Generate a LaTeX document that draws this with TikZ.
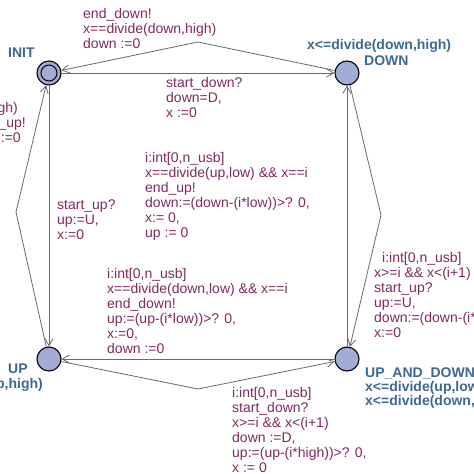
\documentclass[tikz,border=0pt]{standalone}
\usepackage{fontspec}
\setmainfont{Liberation Sans}
\usetikzlibrary{arrows.meta}
\definecolor{locfill}{RGB}{163,172,212}
\definecolor{lblcol}{RGB}{128,40,96}
\definecolor{namecol}{RGB}{62,104,146}
\definecolor{edgecol}{RGB}{105,105,105}

\begin{document}
\begin{tikzpicture}[x=1pt,y=-1pt,
    loc/.style={circle, draw, line width=1.1pt, fill=locfill, minimum size=24pt, inner sep=0pt},
    trans/.style={draw=edgecol, line width=0.8pt, -{Straight Barb[length=7pt,width=8pt]}},
    lbl/.style={text=lblcol, font=\fontsize{14}{15}\selectfont, align=left, inner sep=0pt, anchor=north west},
    lblr/.style={lbl, anchor=base east, align=right},
    locname/.style={text=namecol, font=\fontsize{14}{14}\selectfont\bfseries, inner sep=0pt, anchor=base west}]

  \useasboundingbox (0,0) rectangle (474,474);

  % locations
  \node[loc] (init) at (49,73) {};
  \draw[line width=1pt] (init) circle (8pt);
  \node[loc] (down) at (347,73) {};
  \node[loc] (up) at (49,359) {};
  \node[loc] (updown) at (347,359) {};

  % nails of the bent transitions
  \coordinate (ntop) at (198,42);
  \coordinate (nleft) at (16,212);
  \coordinate (nright) at (381,215);
  \coordinate (nbottom) at (198,389);

  % transitions
  \draw[trans] (init) -- (down);
  \draw[trans] (down) -- (ntop) -- (init);
  \draw[trans] (init) -- (up);
  \draw[trans] (up) -- (nleft) -- (init);
  \draw[trans] (updown) -- (down);
  \draw[trans] (down) -- (nright) -- (updown);
  \draw[trans] (updown) -- (up);
  \draw[trans] (up) -- (nbottom) -- (updown);

  % location names and invariants
  \node[locname] (initname) at (8,57) {INIT};
  \node[locname] (downinv) at (307,49) {x<=divide(down,high)};
  \node[locname] (downname) at (364,65) {DOWN};
  \node[locname] (upname) at (8,373) {UP};
  \node[locname, anchor=base east] (upinv) at (43,388) {x<=divide(up,high)};
  \node[locname] (updownname) at (365,377) {UP\_AND\_DOWN};
  \node[locname] (updowninva) at (365,391) {x<=divide(up,low)};
  \node[locname] (updowninvb) at (365,405) {x<=divide(down,low)};

  % transition labels
  \node[lbl] (enddownlbl) at (83,8) {end\_down!\\x==divide(down,high)\\down :=0};
  \node[lbl] (startdownlbl) at (166,77) {start\_down?\\down=D,\\x :=0};
  \node[lbl] (endupilbl) at (145,152) {i:int[0,n\_usb]\\x==divide(up,low) \&\& x==i\\end\_up!\\down:=(down-(i*low))>? 0,\\x:= 0,\\up := 0};
  \node[lbl] (startuplbl) at (57,200) {start\_up?\\up:=U,\\x:=0};
  \node[lblr] (endupguard) at (18,112) {x==divide(up,high)};
  \node[lblr] (endupsync) at (26,127) {end\_up!};
  \node[lblr] (endupupd) at (21,142) {up :=0};
  \node[lbl] (enddownilbl) at (107,268) {i:int[0,n\_usb]\\x==divide(down,low) \&\& x==i\\end\_down!\\up:=(up-(i*low))>? 0,\\x:=0,\\down :=0};
  \node[lbl] (startupisel) at (382,252) {i:int[0,n\_usb]};
  \node[lbl] (startupilbl) at (374,267) {x>=i \&\& x<(i+1)\\start\_up?\\up:=U,\\down:=(down-(i*low))>? 0,\\x:=0};
  \node[lbl] (startdownilbl) at (232,387) {i:int[0,n\_usb]\\start\_down?\\x>=i \&\& x<(i+1)\\down :=D,\\up:=(up-(i*high))>? 0,\\x := 0};
\end{tikzpicture}
\end{document}
